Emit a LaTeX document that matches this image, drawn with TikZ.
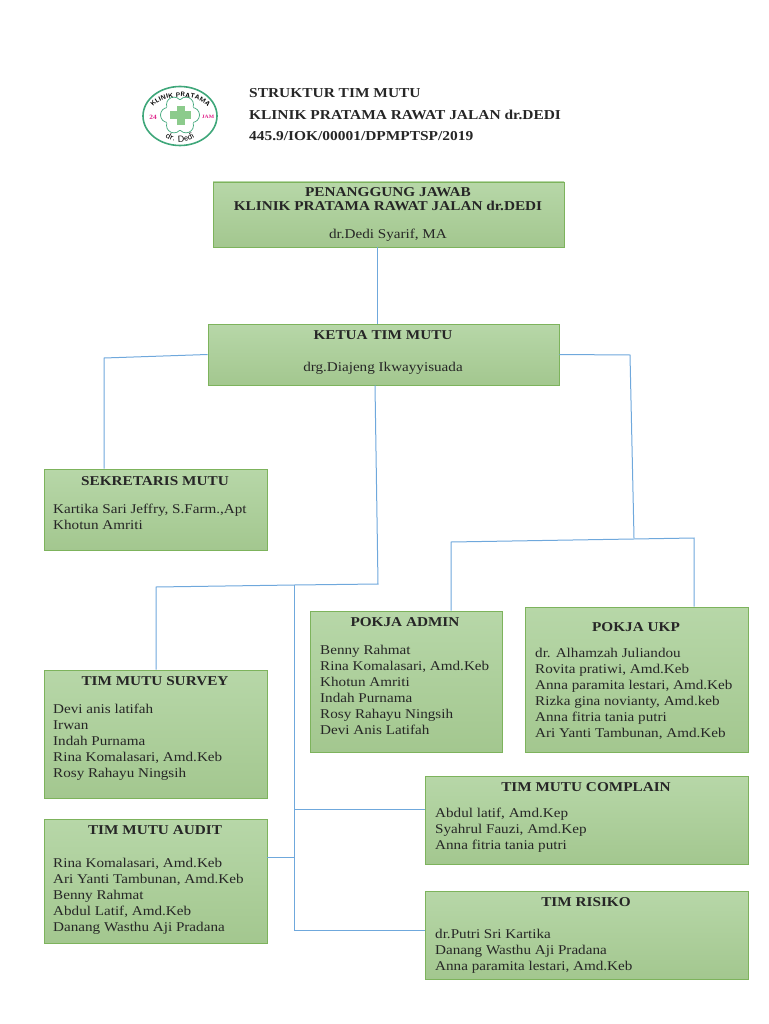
\documentclass[tikz,border=0pt]{standalone}
\usepackage{fontspec}
\setmainfont{Liberation Serif}[FakeStretch=1.13]
\usetikzlibrary{decorations.text}
\definecolor{boxline}{HTML}{7DB35C}
\definecolor{boxtop}{HTML}{B7D7A8}
\definecolor{boxbottom}{HTML}{A3C78F}
\definecolor{wire}{HTML}{6FA8DC}
\definecolor{logogreen}{HTML}{3FA77A}
\definecolor{logopink}{HTML}{E0218A}
\tikzset{
  box/.style={draw=boxline, line width=0.9pt, top color=boxtop, bottom color=boxbottom, rectangle, inner sep=0pt},
  wired/.style={draw=wire, line width=1pt},
  boxhead/.style={font=\fontsize{13.5}{14}\selectfont\bfseries, align=center, inner sep=0pt, text=black!85},
  boxbody/.style={font=\fontsize{13.4}{16}\selectfont, align=left, anchor=north west, inner sep=0pt, text=black!85},
  titleline/.style={font=\fontsize{13.65}{14}\selectfont\bfseries, anchor=base west, inner sep=0pt, text=black!85},
}
\begin{document}
\begin{tikzpicture}[x=1pt,y=-1pt]
\useasboundingbox (0,0) rectangle (768,1024);
% boxes
\node[box, minimum width=351pt, minimum height=65pt] (jawab) at (388.5,214.5){};
\node[box, minimum width=351pt, minimum height=61pt] (ketua) at (383.5,354.5){};
\node[box, minimum width=223pt, minimum height=81pt] (sekretaris) at (155.5,509.5){};
\node[box, minimum width=223pt, minimum height=128pt] (survey) at (155.5,734){};
\node[box, minimum width=223pt, minimum height=124pt] (audit) at (155.5,881){};
\node[box, minimum width=192pt, minimum height=141pt] (admin) at (406,681.5){};
\node[box, minimum width=223pt, minimum height=145pt] (ukp) at (636.5,679.5){};
\node[box, minimum width=323pt, minimum height=88pt] (complain) at (586.5,820){};
\node[box, minimum width=323pt, minimum height=88pt] (risiko) at (586.5,935){};
% connectors
\coordinate (ketuaL) at (104,358);
\coordinate (ketuaR) at (630,355);
\coordinate (ukpFork) at (634,538);
\coordinate (adminTop) at (451,542);
\coordinate (ukpTop) at (694,538);
\coordinate (midA) at (378,584);
\coordinate (midB) at (294,585);
\coordinate (midC) at (156,587);
\coordinate (midD) at (294,809);
\coordinate (midE) at (294,857);
\coordinate (midF) at (294,930);
\draw[wired] (jawab.south -| 377,0) -- (ketua.north -| 377,0);
\draw[wired] (ketua.west) -- (ketuaL) -- (sekretaris.north -| ketuaL);
\draw[wired] (ketua.east) -- (ketuaR) -- (ukpFork);
\draw[wired] (admin.north -| adminTop) -- (adminTop) -- (ukpTop) -- (ukp.north -| ukpTop);
\draw[wired] (ketua.south -| 375,0) -- (midA) -- (midB) -- (midC) -- (survey.north -| midC);
\draw[wired] (midB) -- (midF) -- (risiko.west |- midF);
\draw[wired] (midD) -- (complain.west |- midD);
\draw[wired] (audit.east |- midE) -- (midE);
% header
\node[titleline] (head1) at (249,98){STRUKTUR TIM MUTU};
\node[titleline] (head2) at (249,120){KLINIK PRATAMA RAWAT JALAN dr.DEDI};
\node[titleline] (head3) at (249,141){445.9/IOK/00001/DPMPTSP/2019};
% logo
\draw[logogreen, line width=1.6pt, fill=white] (180,116) ellipse (37pt and 29.5pt);
\foreach \ang in {0,60,...,300}
  \draw[logogreen, line width=0.7pt] (180,115) ++(\ang:12pt) circle (7.5pt);
\fill[white] (180,115) circle (15pt);
\fill[green!55!black!45] (176.5,106) rectangle (184.5,125);
\fill[green!55!black!45] (170,111.5) rectangle (191,119.5);
\node[font=\fontsize{6.5}{7}\selectfont\bfseries, text=logopink, inner sep=0pt] (logo24) at (153,117){24};
\node[font=\fontsize{5}{6}\selectfont\bfseries, text=logopink, inner sep=0pt] (logoJam) at (208,117){JAM};
\path[postaction={decorate, decoration={text along path, text align=center,
  text={|\fontsize{6.5}{7}\sffamily\bfseries|KLINIK PRATAMA}}}]
  (151,112) .. controls (155,92) and (205,92) .. (210,112);
\path[postaction={decorate, decoration={text along path, text align=center,
  text={|\fontsize{9}{10}\sffamily|dr. Dedi}}}]
  (160,133) .. controls (170,145) and (190,145) .. (200,133);
% jawab
\node[boxhead] (jawabHead) at (388,199.5){PENANGGUNG JAWAB\\KLINIK PRATAMA RAWAT JALAN dr.DEDI};
\node[boxbody, anchor=base] (jawabBody) at (388,239){dr.Dedi Syarif, MA};
% ketua
\node[boxhead] (ketuaHead) at (383,335){KETUA TIM MUTU};
\node[boxbody, anchor=base] (ketuaBody) at (383,371){drg.Diajeng Ikwayyisuada};
% sekretaris
\node[boxhead] (sekretarisHead) at (155,481){SEKRETARIS MUTU};
\node[boxbody] (sekretarisBody) at (53,503.5){Kartika Sari Jeffry, S.Farm.,Apt\\Khotun Amriti};
% survey
\node[boxhead] (surveyHead) at (155,681.5){TIM MUTU SURVEY};
\node[boxbody] (surveyBody) at (53,704){Devi anis latifah\\Irwan\\Indah Purnama\\Rina Komalasari, Amd.Keb\\Rosy Rahayu Ningsih};
% audit
\node[boxhead] (auditHead) at (155,830){TIM MUTU AUDIT};
\node[boxbody] (auditBody) at (53,857.5){Rina Komalasari, Amd.Keb\\Ari Yanti Tambunan, Amd.Keb\\Benny Rahmat\\Abdul Latif, Amd.Keb\\Danang Wasthu Aji Pradana};
% admin
\node[boxhead] (adminHead) at (405,622){POKJA ADMIN};
\node[boxbody] (adminBody) at (320,644.5){Benny Rahmat\\Rina Komalasari, Amd.Keb\\Khotun Amriti\\Indah Purnama\\Rosy Rahayu Ningsih\\Devi Anis Latifah};
% ukp
\node[boxhead] (ukpHead) at (636,627){POKJA UKP};
\node[boxbody] (ukpBody) at (535,647.5){dr. Alhamzah Juliandou\\Rovita pratiwi, Amd.Keb\\Anna paramita lestari, Amd.Keb\\Rizka gina novianty, Amd.keb\\Anna fitria tania putri\\Ari Yanti Tambunan, Amd.Keb};
% complain
\node[boxhead] (complainHead) at (586,787){TIM MUTU COMPLAIN};
\node[boxbody] (complainBody) at (435,807.5){Abdul latif, Amd.Kep\\Syahrul Fauzi, Amd.Kep\\Anna fitria tania putri};
% risiko
\node[boxhead] (risikoHead) at (586,902){TIM RISIKO};
\node[boxbody] (risikoBody) at (435,928.5){dr.Putri Sri Kartika\\Danang Wasthu Aji Pradana\\Anna paramita lestari, Amd.Keb};
\end{tikzpicture}
\end{document}
